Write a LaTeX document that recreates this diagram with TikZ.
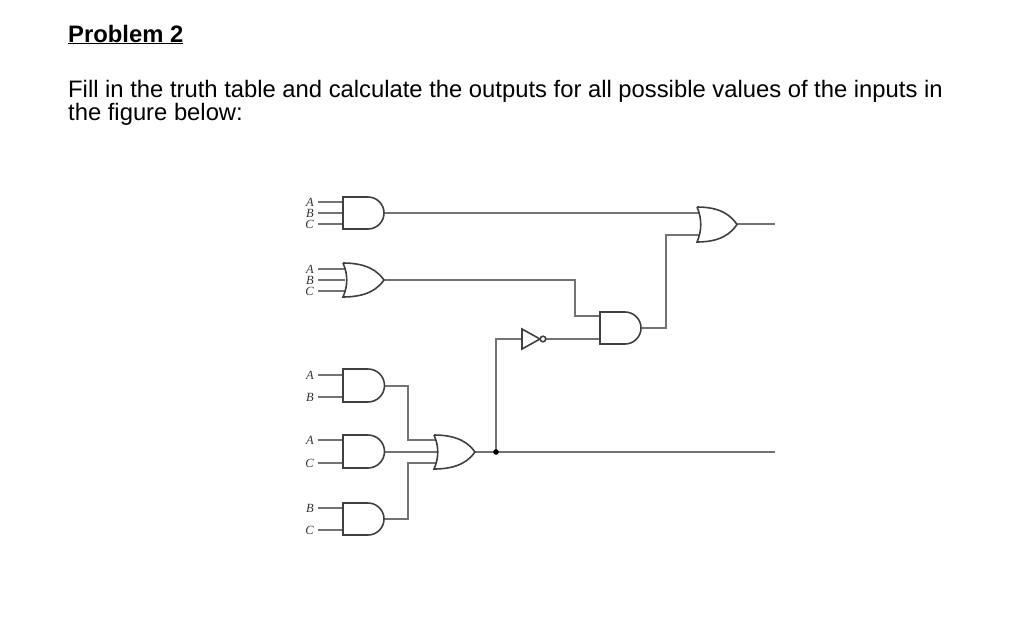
\documentclass[tikz,border=0pt]{standalone}
\usepackage{fontspec}
\setmainfont{Liberation Sans}
\newfontfamily\serifit{Liberation Serif}
\newcommand{\ANDg}[4]{% name, x, top, bottom
  \pgfmathsetmacro\hh{(#4-#3)/2}
  \draw[gate] (#2,#3) -- ++(25,0) arc[start angle=-90,end angle=90,radius=\hh] -- (#2,#4) -- cycle;
  \coordinate (#1) at ({#2+25+\hh},{(#3+#4)/2});}
\newcommand{\ORg}[5]{% name, x, top, bottom, tipx
  \pgfmathsetmacro\hh{(#4-#3)}
  \draw[gate] (#2,#3) .. controls ({#2+5},{#3+\hh/3}) and ({#2+5},{#4-\hh/3}) .. (#2,#4)
     .. controls ({#2+0.6*(#5-#2)},#4) and ({#2+0.85*(#5-#2)},{#4-\hh/4}) .. (#5,{(#3+#4)/2})
     .. controls ({#2+0.85*(#5-#2)},{#3+\hh/4}) and ({#2+0.6*(#5-#2)},#3) .. (#2,#3);
  \coordinate (#1) at (#5,{(#3+#4)/2});}
\begin{document}
\begin{tikzpicture}[x=1pt,y=-1pt,
  gate/.style={draw=black!75,line width=1.6pt,fill=white},
  wire/.style={draw=black!55,line width=1.3pt},
  lbl/.style={font=\serifit\itshape\fontsize{12.5}{12.5}\selectfont,anchor=east,inner sep=0pt,text=black!80},
  ttl/.style={anchor=base west,inner sep=0pt,font=\fontsize{23.8}{26}\selectfont}]
\useasboundingbox (0,0) rectangle (1024,616);
\node[ttl,font=\bfseries\fontsize{23.8}{26}\selectfont] (t) at (68,42) {\underline{Problem 2}};
\node[ttl] (l1) at (68,97) {Fill in the truth table and calculate the outputs for all possible values of the inputs in};
\node[ttl] (l2) at (68,120) {the figure below:};
\foreach \y/\t in {202/A,213/B,224/C,269/A,280/B,291/C,375/A,397/B,440/A,463/C,508/B,530/C}{
  \draw[wire] (318,\y) -- (345,\y);
  \node[lbl] at (314,\y) {\t};}
\draw[wire] (380,213) -- (700,213);
\draw[wire] (380,280) -- (575,280) -- (575,316) -- (602,316);
\draw[wire] (546,339) -- (602,339);
\draw[wire] (496,452) -- (496,339) -- (524,339);
\draw[wire] (638,328) -- (666,328) -- (666,235) -- (700,235);
\draw[wire] (735,224) -- (775,224);
\draw[wire] (380,386) -- (408,386) -- (408,440) -- (437,440);
\draw[wire] (380,452) -- (437,452);
\draw[wire] (380,519) -- (408,519) -- (408,463) -- (437,463);
\draw[wire] (472,452) -- (775,452);
\fill[black] (496,452) circle (2.8);
\ANDg{g1}{343}{197}{229}
\ORg{g2}{343}{263}{297}{384}
\ANDg{g4}{600}{312}{344}
\ORg{g3}{697}{207}{242}{737}
\ANDg{g5}{343}{369}{402}
\ANDg{g6}{343}{435}{468}
\ANDg{g7}{343}{503}{535}
\ORg{g8}{434}{435}{469}{475}
\draw[gate] (522,329) -- (540,339) -- (522,349) -- cycle;
\draw[gate] (543,339) circle (2.8);
\end{tikzpicture}
\end{document}
